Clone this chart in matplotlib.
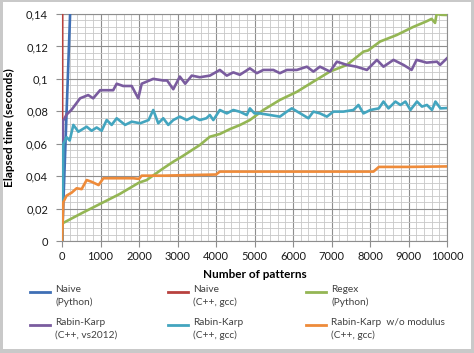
import matplotlib
matplotlib.use("Agg")
import matplotlib.pyplot as plt
from matplotlib.lines import Line2D
from matplotlib.patches import Rectangle
from matplotlib.ticker import MultipleLocator, FixedLocator

plt.rcParams['font.family'] = ['Lato', 'DejaVu Sans']

# ---- data ----
naive_py_x = [0, 100, 200, 300]
naive_py_y = [0.0, 0.0667, 0.133, 0.200]

naive_cpp_x = [0, 100]
naive_cpp_y = [0.0, 2.8]

regex_x = [0, 20, 500, 1000, 1500, 2000, 2200, 2630, 2890, 3110, 3240, 3580, 3840,
           4100, 4360, 4620, 4880, 5230, 5660, 6100, 6530, 6960, 7400, 7830, 7950,
           8260, 8690, 9120, 9470, 9600, 9690, 9730, 9850, 10000]
regex_y = [0.0, 0.011, 0.017, 0.023, 0.029, 0.036, 0.0376, 0.0448, 0.0489, 0.052, 0.054,
           0.0592, 0.0643, 0.066, 0.0690, 0.0715, 0.0746, 0.0808, 0.087, 0.092, 0.0983,
           0.1045, 0.1086, 0.1168, 0.1175, 0.123, 0.127, 0.132, 0.1355, 0.137, 0.1345,
           0.1400, 0.1395, 0.1394]

rk_vs_x = [0, 26, 120, 250, 470, 680, 810, 990, 1330, 1420, 1590, 1810, 1980, 2070,
           2370, 2630, 2730, 2890, 3060, 3200, 3370, 3580, 3840, 4100, 4280, 4450,
           4620, 4880, 5060, 5230, 5490, 5660, 5840, 6100, 6360, 6530, 6700, 6960,
           7140, 7400, 7650, 7920, 8180, 8350, 8610, 8870, 9080, 9210, 9470, 9740,
           9820, 10000]
rk_vs_y = [0.0, 0.074, 0.078, 0.081, 0.088, 0.090, 0.088, 0.093, 0.093, 0.097, 0.0956,
           0.0956, 0.088, 0.097, 0.100, 0.099, 0.099, 0.0936, 0.1014, 0.097, 0.102,
           0.101, 0.102, 0.1055, 0.102, 0.104, 0.1025, 0.1065, 0.1035, 0.1055, 0.1055,
           0.1035, 0.1055, 0.1055, 0.1075, 0.1045, 0.1075, 0.1045, 0.1106, 0.1086,
           0.1075, 0.1055, 0.1117, 0.1075, 0.1117, 0.1086, 0.1055, 0.1117, 0.110,
           0.1106, 0.1086, 0.1127]

rk_gcc_x = [0, 35, 120, 200, 295, 425, 640, 770, 900, 1030, 1160, 1290, 1420, 1640,
            1810, 2030, 2250, 2370, 2500, 2630, 2760, 2890, 3060, 3240, 3410, 3580,
            3750, 3840, 3930, 4100, 4280, 4450, 4620, 4800, 4880, 5000, 5140, 5400,
            5660, 5840, 5970, 6190, 6400, 6530, 6700, 6880, 7050, 7310, 7570, 7700,
            7830, 8010, 8230, 8350, 8480, 8660, 8790, 8920, 9050, 9220, 9350, 9480,
            9610, 9700, 9830, 10000]
rk_gcc_y = [0.0, 0.060, 0.064, 0.062, 0.0716, 0.0674, 0.0705, 0.068, 0.070, 0.068,
            0.0746, 0.0716, 0.0757, 0.0716, 0.0736, 0.0726, 0.0746, 0.0808, 0.0726,
            0.0757, 0.0716, 0.0746, 0.0767, 0.0746, 0.0767, 0.0746, 0.0757, 0.0777,
            0.0746, 0.0808, 0.0787, 0.0808, 0.0797, 0.0777, 0.0818, 0.0787, 0.0787,
            0.0777, 0.0767, 0.0798, 0.0818, 0.0787, 0.0757, 0.0798, 0.0787, 0.0767,
            0.0798, 0.0798, 0.0808, 0.0839, 0.0787, 0.0808, 0.0818, 0.086, 0.0818,
            0.086, 0.0839, 0.086, 0.0808, 0.086, 0.0829, 0.0839, 0.0808, 0.086,
            0.0818, 0.082]

rk_nomod_x = [0, 35, 120, 250, 380, 510, 640, 770, 950, 1075, 1330, 1850, 2000, 2070,
              2630, 3400, 4000, 4100, 8090, 8230, 9000, 10000]
rk_nomod_y = [0.0, 0.024, 0.028, 0.0298, 0.0325, 0.032, 0.0376, 0.0365, 0.0345,
              0.0387, 0.0387, 0.0387, 0.0383, 0.0403, 0.0403, 0.0407, 0.041, 0.0428,
              0.0428, 0.0457, 0.0457, 0.046]

series_names = ["Naive\n(Python)", "Naive\n(C++, gcc)", "Regex\n(Python)",
                "Rabin-Karp\n(C++, vs2012)", "Rabin-Karp\n(C++, gcc)",
                "Rabin-Karp  w/o modulus\n(C++, gcc)"]
series_colors = ["#3F6FB5", "#B8413E", "#94B654", "#7A5C9F", "#43A5BF", "#EE8B3A"]

y_ticks = [0, 0.02, 0.04, 0.06, 0.08, 0.10, 0.12, 0.14]
y_tick_labels = ["0", "0,02", "0,04", "0,06", "0,08", "0,1", "0,12", "0,14"]
x_ticks = [0, 1000, 2000, 3000, 4000, 5000, 6000, 7000, 8000, 9000, 10000]
x_tick_labels = [str(v) for v in x_ticks]

# ---- figure ----
W, H = 474, 353
fig = plt.figure(figsize=(W / 100, H / 100), dpi=100)
fig.patch.set_facecolor("#C9C9C9")
fig.add_artist(Rectangle((3 / W, 4 / H), (W - 6) / W, (H - 6) / H,
                         transform=fig.transFigure, facecolor="white",
                         edgecolor="none", zorder=-10))

ax = fig.add_axes([62 / W, 1 - 241 / H, 385 / W, 227 / H])
ax.set_facecolor("white")

xs = [naive_py_x, naive_cpp_x, regex_x, rk_vs_x, rk_gcc_x, rk_nomod_x]
ys = [naive_py_y, naive_cpp_y, regex_y, rk_vs_y, rk_gcc_y, rk_nomod_y]
order = [2, 3, 4, 5, 1, 0]
for i in order:
    ax.plot(xs[i], ys[i], color=series_colors[i], lw=1.9, solid_joinstyle="round",
            zorder=3 + i)

ax.set_xlim(0, 10000)
ax.set_ylim(0, 0.14)
ax.xaxis.set_major_locator(FixedLocator(x_ticks))
ax.yaxis.set_major_locator(FixedLocator(y_ticks))
ax.set_xticklabels(x_tick_labels)
ax.set_yticklabels(y_tick_labels)
ax.xaxis.set_minor_locator(MultipleLocator(200))
ax.yaxis.set_minor_locator(MultipleLocator(0.004))
ax.grid(which="major", color="#8E8E8E", lw=0.8, zorder=0)
ax.grid(which="minor", color="#C8C8C8", lw=0.6, zorder=0)
ax.set_axisbelow(True)
for s in ax.spines.values():
    s.set_color("#8E8E8E")
    s.set_linewidth(0.8)
ax.tick_params(which="major", length=4, width=0.8, color="#8E8E8E",
               labelsize=8, labelcolor="#1a1a1a", pad=3)
ax.tick_params(which="minor", length=0)
ax.tick_params(axis="y", pad=6)

ax.set_xlabel("Number of patterns", fontsize=8.5, fontweight="bold", labelpad=5)
ax.set_ylabel("Elapsed time (seconds)", fontsize=8.5, fontweight="bold", labelpad=8)

# ---- legend (manual, Excel style) ----
col_x = [30, 168, 306]
row_y = [292, 325]
for k in range(6):
    r, c = divmod(k, 3)
    x0 = col_x[c]
    y0 = row_y[r]
    fig.add_artist(Line2D([x0 / W, (x0 + 20) / W], [1 - y0 / H, 1 - y0 / H],
                          transform=fig.transFigure, color=series_colors[k], lw=2))
    fig.text((x0 + 25) / W, 1 - (y0 - 7) / H, series_names[k], fontsize=7.3,
             color="#404040", va="top", ha="left", linespacing=1.45)

fig.savefig("out.png", dpi=100)
